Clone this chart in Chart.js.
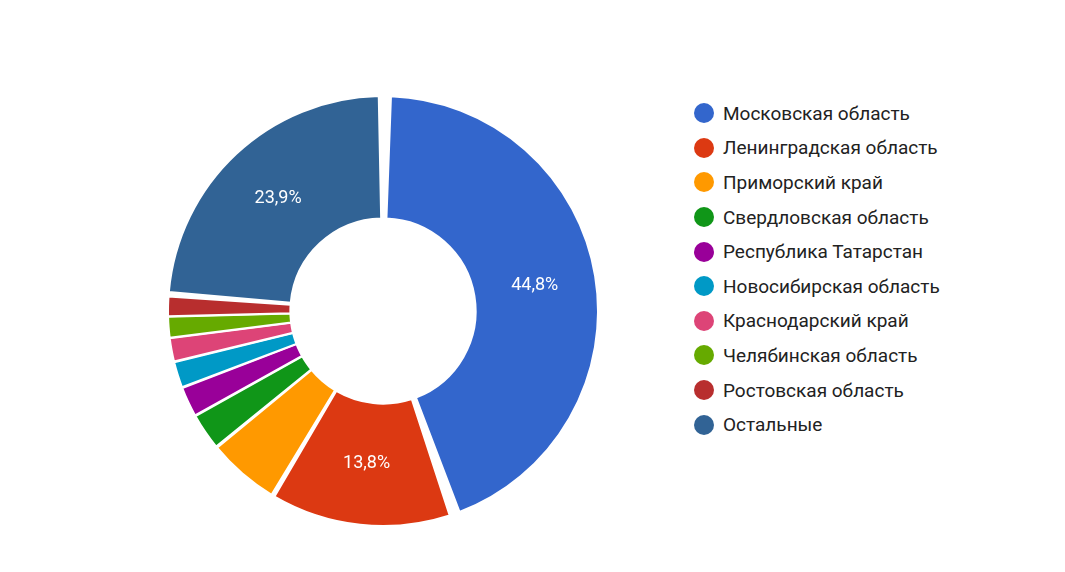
<!DOCTYPE html>
<html><head><meta charset="utf-8">
<script src="https://cdn.jsdelivr.net/npm/chart.js@4"></script>
<style>
body{margin:0;background:#fff;width:1065px;height:572px;position:relative;font-family:Roboto,"Liberation Sans",Arial,sans-serif;}
#wrap{position:absolute;left:163px;top:91px;width:440px;height:440px;}
#legend{position:absolute;left:694px;top:96px;font-size:19px;color:#222;}
.item{height:34.6px;display:flex;align-items:center;}
.dot{width:20px;height:20px;border-radius:50%;margin-right:9px;}
</style></head><body>
<div id="wrap"><canvas id="c"></canvas></div>
<div id="legend"></div>
<script>
const categories=["Московская область","Ленинградская область","Приморский край","Свердловская область","Республика Татарстан","Новосибирская область","Краснодарский край","Челябинская область","Ростовская область","Остальные"];
const values=[44.8,13.8,5.5,2.8,2.3,2.0,1.8,1.6,1.5,23.9];
const colors=["#3366cc","#dc3912","#ff9900","#109618","#990099","#0099c6","#dd4477","#66aa00","#b82e2e","#316395"];
const lg=document.getElementById('legend');
categories.forEach((c,i)=>{const d=document.createElement('div');d.className='item';d.innerHTML='<span class="dot" style="background:'+colors[i]+'"></span>'+c;lg.appendChild(d);});
const labelPlugin={id:'lbl',afterDatasetsDraw(ch){const ctx=ch.ctx;const meta=ch.getDatasetMeta(0);ctx.save();ctx.fillStyle='#fff';ctx.font='18px Roboto, "Liberation Sans", Arial';ctx.textAlign='center';ctx.textBaseline='middle';
meta.data.forEach((a,i)=>{if(values[i]<10)return;const p=a.tooltipPosition();ctx.fillText(values[i].toFixed(1).replace('.',',')+'%',p.x,p.y);});ctx.restore();}};
new Chart(document.getElementById('c'),{type:'doughnut',data:{labels:categories,datasets:[{data:values,backgroundColor:colors,borderColor:'#fff',borderWidth:2,spacing:8}]},
options:{responsive:true,maintainAspectRatio:false,animation:false,cutout:'42%',layout:{padding:4},plugins:{legend:{display:false},tooltip:{enabled:false}}},plugins:[labelPlugin]});
</script></body></html>
